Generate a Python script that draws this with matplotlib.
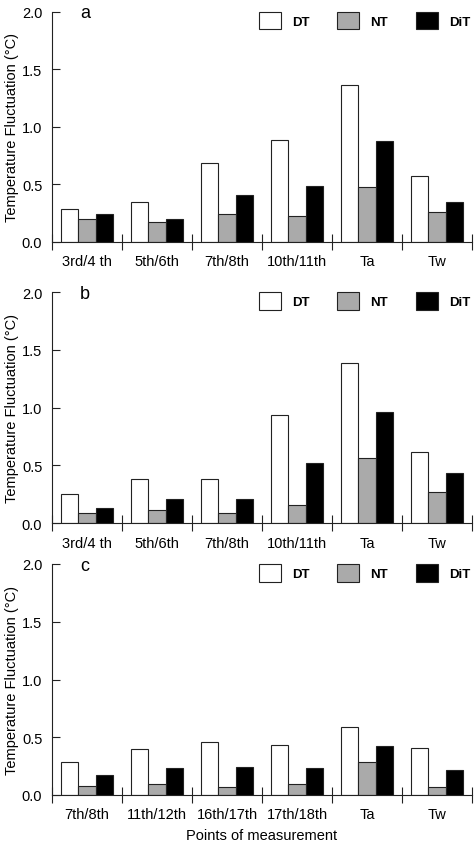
import matplotlib
matplotlib.use("Agg")
import matplotlib.pyplot as plt
from matplotlib.patches import Patch
import numpy as np

plt.rcParams['font.family'] = ['Liberation Sans', 'DejaVu Sans']

series = ["DT", "NT", "DiT"]
colors = ["#ffffff", "#aaaaaa", "#000000"]

cats_a = ["3rd/4 th", "5th/6th", "7th/8th", "10th/11th", "Ta", "Tw"]
dt_a = [0.29, 0.35, 0.685, 0.885, 1.365, 0.575]
nt_a = [0.20, 0.17, 0.24, 0.23, 0.475, 0.26]
dit_a = [0.24, 0.20, 0.41, 0.485, 0.875, 0.35]

cats_b = ["3rd/4 th", "5th/6th", "7th/8th", "10th/11th", "Ta", "Tw"]
dt_b = [0.255, 0.38, 0.38, 0.935, 1.385, 0.615]
nt_b = [0.085, 0.11, 0.085, 0.155, 0.56, 0.27]
dit_b = [0.13, 0.21, 0.21, 0.52, 0.965, 0.435]

cats_c = ["7th/8th", "11th/12th", "16th/17th", "17th/18th", "Ta", "Tw"]
dt_c = [0.285, 0.40, 0.455, 0.43, 0.59, 0.41]
nt_c = [0.08, 0.095, 0.07, 0.095, 0.285, 0.07]
dit_c = [0.17, 0.23, 0.24, 0.23, 0.42, 0.22]

panels = [
    ("a", cats_a, [dt_a, nt_a, dit_a]),
    ("b", cats_b, [dt_b, nt_b, dit_b]),
    ("c", cats_c, [dt_c, nt_c, dit_c]),
]

W, H = 474, 845
fig = plt.figure(figsize=(W / 100, H / 100), dpi=100)

tops_px = [12.7, 293.3, 565.0]
bots_px = [243.0, 524.0, 796.0]
left_px, right_px = 52.0, 472.0

bw = 0.25
edge = "#222222"
for (lab, cats, vals), t, b in zip(panels, tops_px, bots_px):
    ax = fig.add_axes([left_px / W, (H - b) / H, (right_px - left_px) / W, (b - t) / H])
    x = np.arange(len(cats)) + 0.5
    for k, (v, c) in enumerate(zip(vals, colors)):
        ax.bar(x + (k - 1) * bw, v, width=bw, color=c, edgecolor=edge, linewidth=0.8, zorder=2)
    ax.set_xlim(0, len(cats))
    ax.set_ylim(0, 2.0)
    ax.set_yticks([0, 0.5, 1.0, 1.5, 2.0])
    ax.set_yticklabels([f"{v:.1f}" for v in [0, 0.5, 1.0, 1.5, 2.0]], fontsize=10.5)
    ax.tick_params(axis='y', direction='in', length=6, width=0.8, pad=7, color=edge)
    ax.set_xticks(np.arange(len(cats) + 1))
    ax.set_xticklabels([])
    ax.tick_params(axis='x', which='major', direction='inout', length=11, width=0.8, color=edge)
    ax.set_xticks(x, minor=True)
    ax.set_xticklabels(cats, minor=True, fontsize=10.5)
    ax.tick_params(axis='x', which='minor', length=0, pad=9)
    for s in ['top', 'right']:
        ax.spines[s].set_visible(False)
    for s in ['left', 'bottom']:
        ax.spines[s].set_color(edge)
        ax.spines[s].set_linewidth(0.8)
    ax.set_ylabel("Temperature Fluctuation (°C)", fontsize=10.5, va='center')
    ax.yaxis.set_label_coords(-0.0964, 0.5)
    ax.text(0.067, 0.975, lab, transform=ax.transAxes, fontsize=13, va='baseline', ha='left')
    handles = [Patch(facecolor=c, edgecolor=edge, linewidth=0.8, label=s) for s, c in zip(series, colors)]
    ax.legend(handles=handles, ncol=3, loc='upper right', bbox_to_anchor=(0.995, 1.0),
              frameon=False, borderpad=0, borderaxespad=0, handlelength=1.67, handleheight=1.67,
              handletextpad=0.83, columnspacing=2.1, prop={'size': 9.5, 'weight': 'bold'})
    if lab == "c":
        ax.set_xlabel("Points of measurement", fontsize=10.5, va='top')
        ax.xaxis.set_label_coords(0.5, -0.143)

fig.savefig("out.png", dpi=100)
